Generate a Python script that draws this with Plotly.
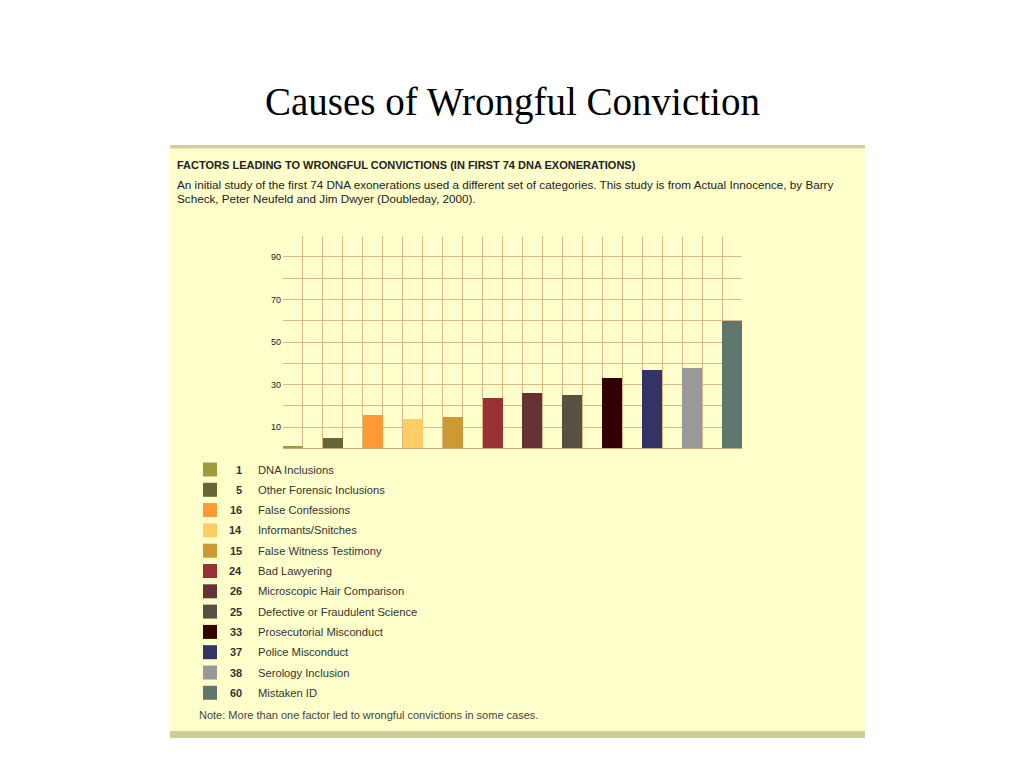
import numpy as np
import plotly.graph_objects as go

# ---- data ----
categories = [
    "DNA Inclusions", "Other Forensic Inclusions", "False Confessions",
    "Informants/Snitches", "False Witness Testimony", "Bad Lawyering",
    "Microscopic Hair Comparison", "Defective or Fraudulent Science",
    "Prosecutorial Misconduct", "Police Misconduct", "Serology Inclusion",
    "Mistaken ID",
]
values = [1, 5, 16, 14, 15, 24, 26, 25, 33, 37, 38, 60]
colors = ["#9c9c3c", "#66663a", "#ff9933", "#ffcc66", "#cc9933", "#993333",
          "#663334", "#585040", "#330000", "#333366", "#999999", "#5e766e"]
y_tick_vals = [0, 10, 20, 30, 40, 50, 60, 70, 80, 90, 100]
y_tick_text = ["", "10", "", "30", "", "50", "", "70", "", "90", ""]

title_text = "Causes of Wrongful Conviction"
header_text = "FACTORS LEADING TO WRONGFUL CONVICTIONS (IN FIRST 74 DNA EXONERATIONS)"
sub_line1 = ("An initial study of the first 74 DNA exonerations used a different set of "
             "categories. This study is from Actual Innocence, by Barry")
sub_line2 = "Scheck, Peter Neufeld and Jim Dwyer (Doubleday, 2000)."
note_text = "Note: More than one factor led to wrongful convictions in some cases."

W, H = 1024, 768
OFF = 8  # page body margin
def px(x):
    return (x - OFF) / W
def py(y):
    return 1 - (y - OFF) / H

n = len(categories)
xpos = np.arange(n) + 0.25

fig = go.Figure()
fig.add_trace(go.Bar(
    x=xpos, y=values, width=0.5, marker=dict(color=colors, line=dict(width=0)),
    text=categories, hoverinfo="text+y", textposition="none", showlegend=False,
))

grid_col = "#dbb886"
fig.update_layout(
    width=W, height=H,
    margin=dict(l=0, r=0, t=0, b=0),
    paper_bgcolor="white",
    plot_bgcolor="rgba(0,0,0,0)",
    bargap=0,
    xaxis=dict(
        domain=[px(283), px(742)], range=[0, n - 0.5],
        tickvals=list(np.arange(0, n - 0.5 + 0.01, 0.5)),
        showticklabels=False, ticks="", showgrid=True, gridcolor=grid_col,
        gridwidth=1, zeroline=False, showline=True, linecolor="#d0a574",
        linewidth=1, fixedrange=True,
    ),
    yaxis=dict(
        domain=[py(448.3), py(235.7)], range=[0, 100],
        tickvals=y_tick_vals, ticktext=y_tick_text,
        tickfont=dict(family="Liberation Sans, Arial", size=9, color="#222222"),
        ticks="", showgrid=True, gridcolor=grid_col, gridwidth=1,
        zeroline=False, showline=False, fixedrange=True, ticklabelstandoff=1,
    ),
)

shapes = [
    # panel background
    dict(type="rect", xref="paper", yref="paper", x0=px(170), x1=px(865),
         y0=py(736), y1=py(146), fillcolor="#ffffcc", line=dict(width=0),
         layer="below"),
    # top border
    dict(type="rect", xref="paper", yref="paper", x0=px(170), x1=px(865),
         y0=py(148.5), y1=py(145), fillcolor="#cfcfa3", line=dict(width=0),
         layer="below"),
    # bottom border
    dict(type="rect", xref="paper", yref="paper", x0=px(170), x1=px(865),
         y0=py(738), y1=py(731), fillcolor="#cccc99", line=dict(width=0),
         layer="below"),
]

annotations = [
    dict(text=title_text, x=px(512), y=py(102), xref="paper", yref="paper",
         xanchor="center", yanchor="middle", showarrow=False,
         font=dict(family="Liberation Serif, Times New Roman", size=39, color="black")),
    dict(text="<b>" + header_text + "</b>", x=px(175), y=py(165), xref="paper",
         yref="paper", xanchor="left", yanchor="middle", showarrow=False,
         font=dict(family="Liberation Sans, Arial", size=11, color="#222222")),
    dict(text=sub_line1, x=px(175), y=py(184.5), xref="paper", yref="paper",
         xanchor="left", yanchor="middle", showarrow=False,
         font=dict(family="Liberation Sans, Arial", size=11.7, color="#222222")),
    dict(text=sub_line2, x=px(175), y=py(199), xref="paper", yref="paper",
         xanchor="left", yanchor="middle", showarrow=False,
         font=dict(family="Liberation Sans, Arial", size=11.7, color="#222222")),
    dict(text=note_text, x=px(197), y=py(715), xref="paper", yref="paper",
         xanchor="left", yanchor="middle", showarrow=False,
         font=dict(family="Liberation Sans, Arial", size=11, color="#444444")),
]

row0, step = 469.5, 20.3
for i, (cat, val, col) in enumerate(zip(categories, values, colors)):
    yc = row0 + i * step
    shapes.append(dict(type="rect", xref="paper", yref="paper",
                       x0=px(203), x1=px(217), y0=py(yc + 7), y1=py(yc - 7),
                       fillcolor=col, line=dict(width=0)))
    annotations.append(dict(text="<b>%d</b>" % val, x=px(244), y=py(yc),
                            xref="paper", yref="paper", xanchor="right",
                            yanchor="middle", showarrow=False,
                            font=dict(family="Liberation Sans, Arial", size=11,
                                      color="#333333")))
    annotations.append(dict(text=cat, x=px(256), y=py(yc), xref="paper",
                            yref="paper", xanchor="left", yanchor="middle",
                            showarrow=False,
                            font=dict(family="Liberation Sans, Arial", size=11.2,
                                      color="#333333")))

fig.update_layout(shapes=shapes, annotations=annotations)
fig.write_html("out.html")
